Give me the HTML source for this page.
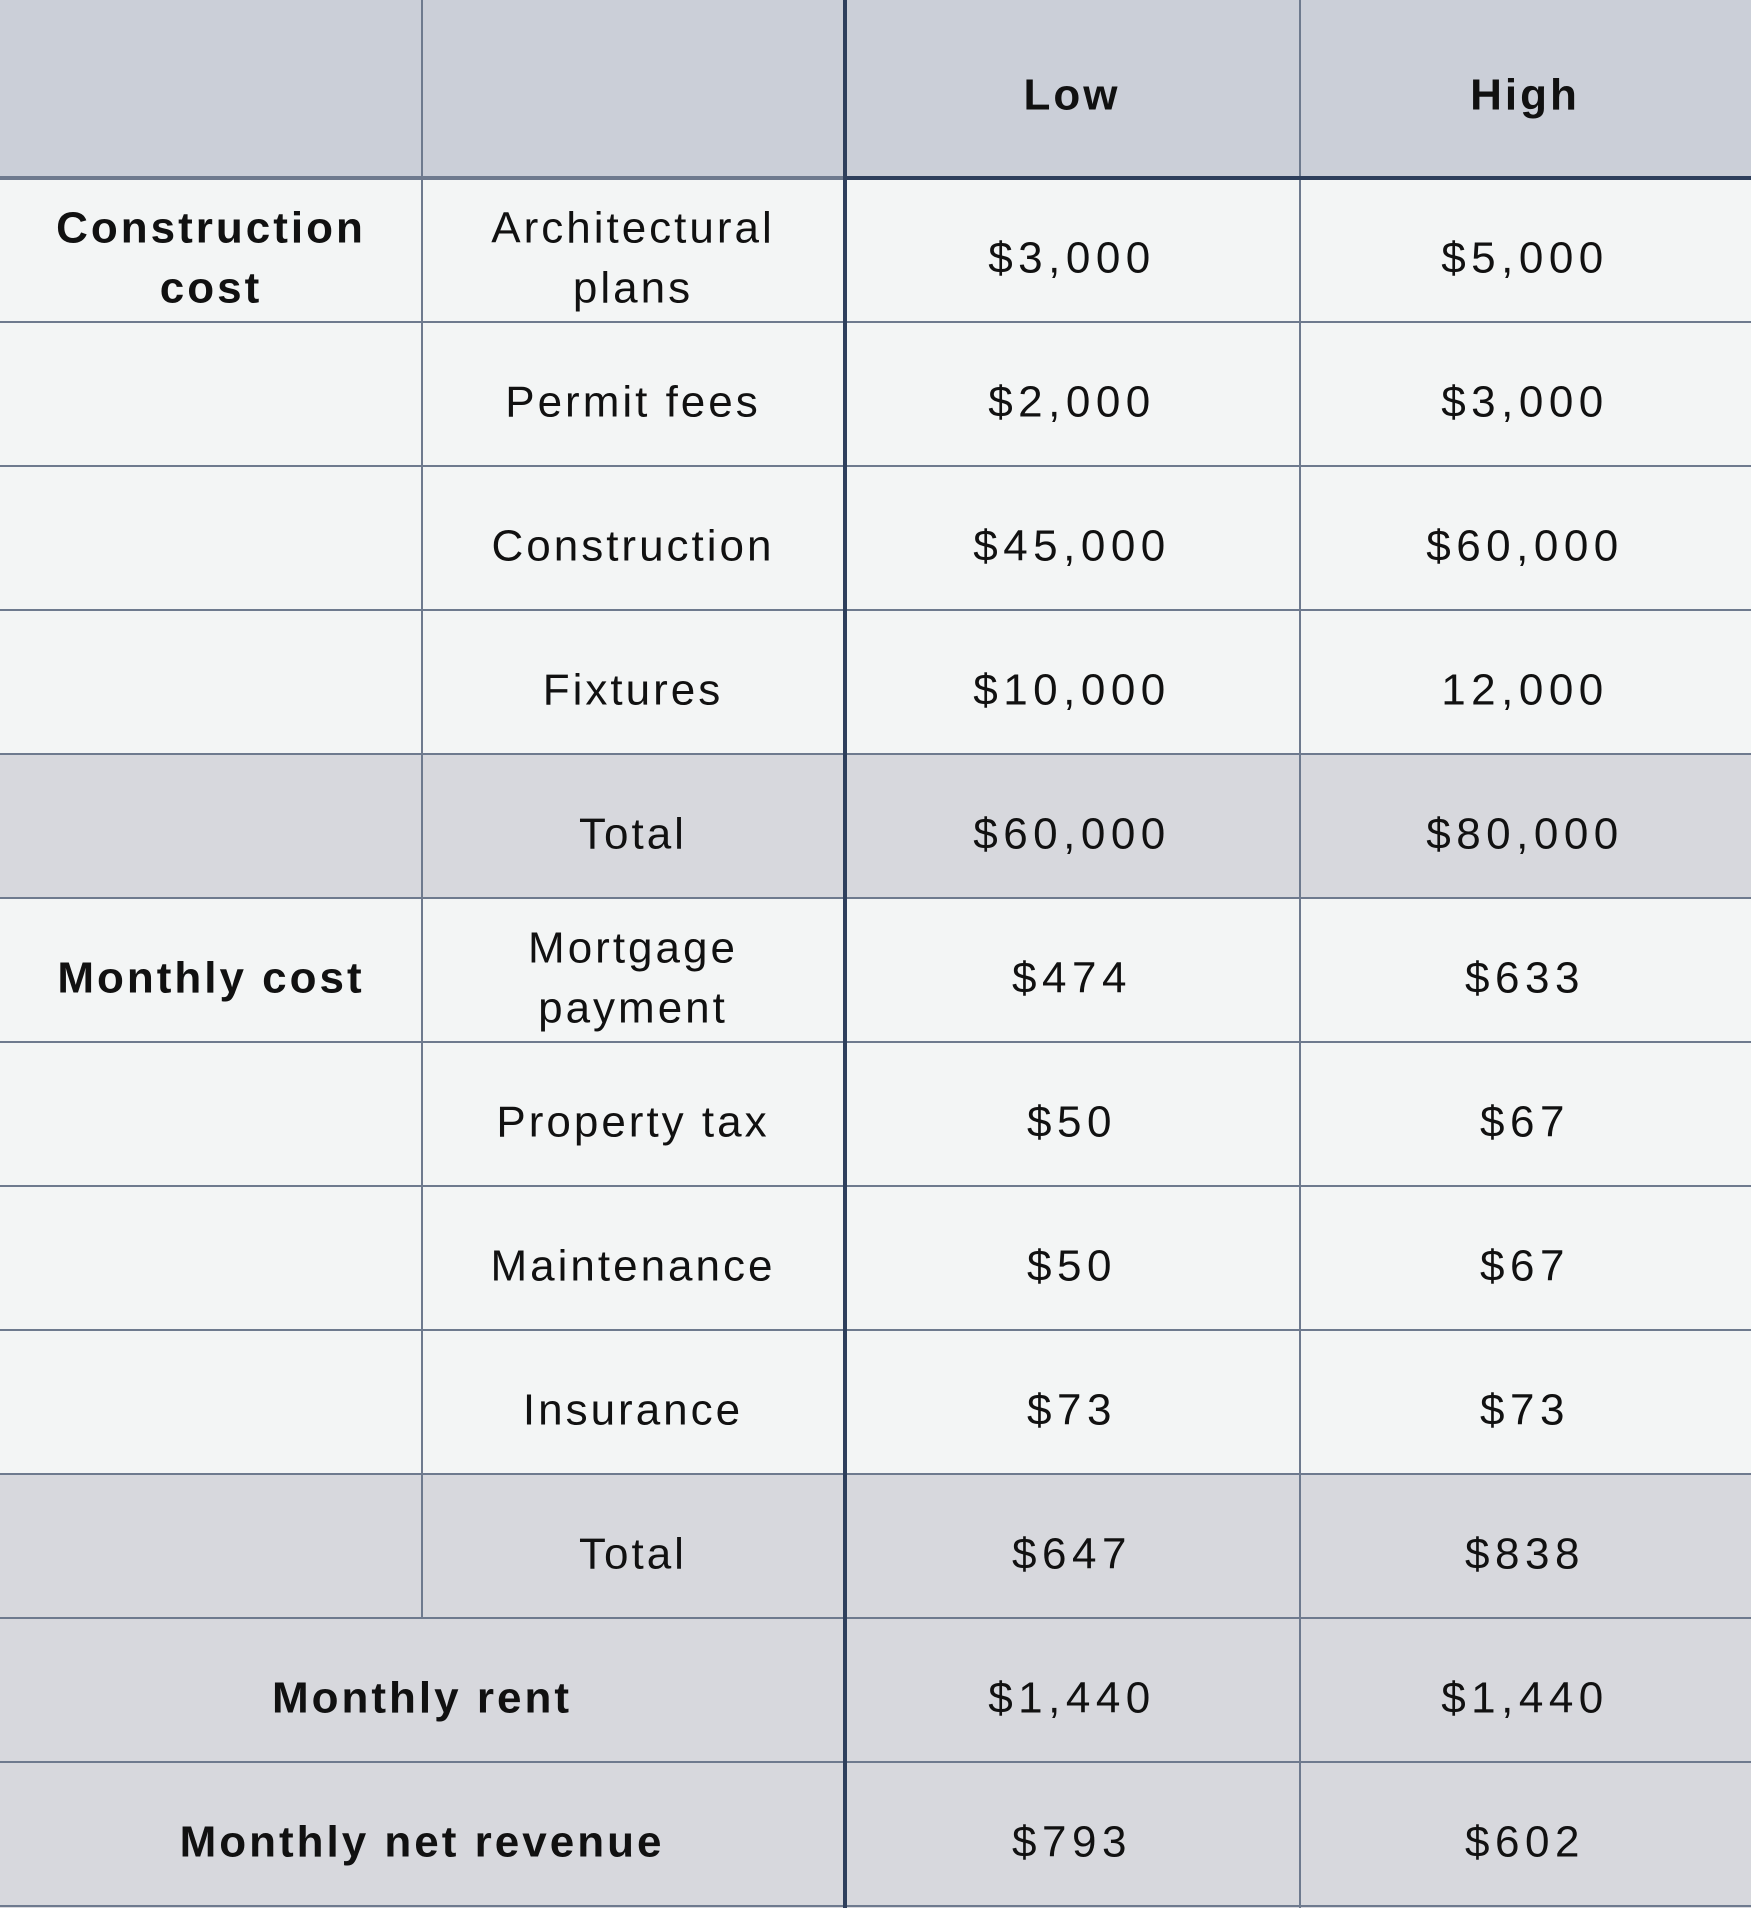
<!DOCTYPE html>
<html><head><style>
html,body{margin:0;padding:0;background:#f3f5f5;}
svg{display:block}
text{font-family:"Liberation Sans",sans-serif;font-size:44px;fill:#111;text-anchor:middle;dominant-baseline:central;letter-spacing:3px}
.n{letter-spacing:5.5px}
.b{font-weight:bold}
</style></head><body>
<svg width="1751" height="1908" xmlns="http://www.w3.org/2000/svg">
<rect x="0" y="0" width="1751" height="178" fill="#cbcfd8"/>
<rect x="0" y="178" width="1751" height="1730" fill="#f3f5f5"/>
<rect x="0" y="754" width="1751" height="144" fill="#d7d8dd"/>
<rect x="0" y="1474" width="1751" height="434" fill="#d7d8dd"/>
<g stroke="#6e7a8e" stroke-width="2">
<line x1="0" y1="322" x2="1751" y2="322"/>
<line x1="0" y1="466" x2="1751" y2="466"/>
<line x1="0" y1="610" x2="1751" y2="610"/>
<line x1="0" y1="754" x2="1751" y2="754"/>
<line x1="0" y1="898" x2="1751" y2="898"/>
<line x1="0" y1="1042" x2="1751" y2="1042"/>
<line x1="0" y1="1186" x2="1751" y2="1186"/>
<line x1="0" y1="1330" x2="1751" y2="1330"/>
<line x1="0" y1="1474" x2="1751" y2="1474"/>
<line x1="0" y1="1618" x2="1751" y2="1618"/>
<line x1="0" y1="1762" x2="1751" y2="1762"/>
<line x1="0" y1="1906" x2="1751" y2="1906"/>
<line x1="422" y1="0" x2="422" y2="1618"/>
<line x1="1300" y1="0" x2="1300" y2="1908"/>
<line x1="0" y1="178" x2="845" y2="178" stroke-width="4"/>
</g>
<line x1="845" y1="178" x2="1751" y2="178" stroke="#2e3f5c" stroke-width="4"/>
<line x1="845" y1="0" x2="845" y2="1908" stroke="#2e3f5c" stroke-width="4"/>
<text x="1072" y="95" class="b">Low</text>
<text x="1525" y="95" class="b">High</text>

<text x="211" y="228" class="b">Construction</text>
<text x="211" y="288" class="b">cost</text>
<text x="633" y="228">Architectural</text>
<text x="633" y="288">plans</text>
<text x="1072" y="258" class="n">$3,000</text>
<text x="1525" y="258" class="n">$5,000</text>

<text x="633" y="402">Permit fees</text>
<text x="1072" y="402" class="n">$2,000</text>
<text x="1525" y="402" class="n">$3,000</text>

<text x="633" y="546">Construction</text>
<text x="1072" y="546" class="n">$45,000</text>
<text x="1525" y="546" class="n">$60,000</text>

<text x="633" y="690">Fixtures</text>
<text x="1072" y="690" class="n">$10,000</text>
<text x="1525" y="690" class="n">12,000</text>

<text x="633" y="834">Total</text>
<text x="1072" y="834" class="n">$60,000</text>
<text x="1525" y="834" class="n">$80,000</text>

<text x="211" y="978" class="b">Monthly cost</text>
<text x="633" y="948">Mortgage</text>
<text x="633" y="1008">payment</text>
<text x="1072" y="978" class="n">$474</text>
<text x="1525" y="978" class="n">$633</text>

<text x="633" y="1122">Property tax</text>
<text x="1072" y="1122" class="n">$50</text>
<text x="1525" y="1122" class="n">$67</text>

<text x="633" y="1266">Maintenance</text>
<text x="1072" y="1266" class="n">$50</text>
<text x="1525" y="1266" class="n">$67</text>

<text x="633" y="1410">Insurance</text>
<text x="1072" y="1410" class="n">$73</text>
<text x="1525" y="1410" class="n">$73</text>

<text x="633" y="1554">Total</text>
<text x="1072" y="1554" class="n">$647</text>
<text x="1525" y="1554" class="n">$838</text>

<text x="422" y="1698" class="b">Monthly rent</text>
<text x="1072" y="1698" class="n">$1,440</text>
<text x="1525" y="1698" class="n">$1,440</text>

<text x="422" y="1842" class="b">Monthly net revenue</text>
<text x="1072" y="1842" class="n">$793</text>
<text x="1525" y="1842" class="n">$602</text>
</svg>
</body></html>
